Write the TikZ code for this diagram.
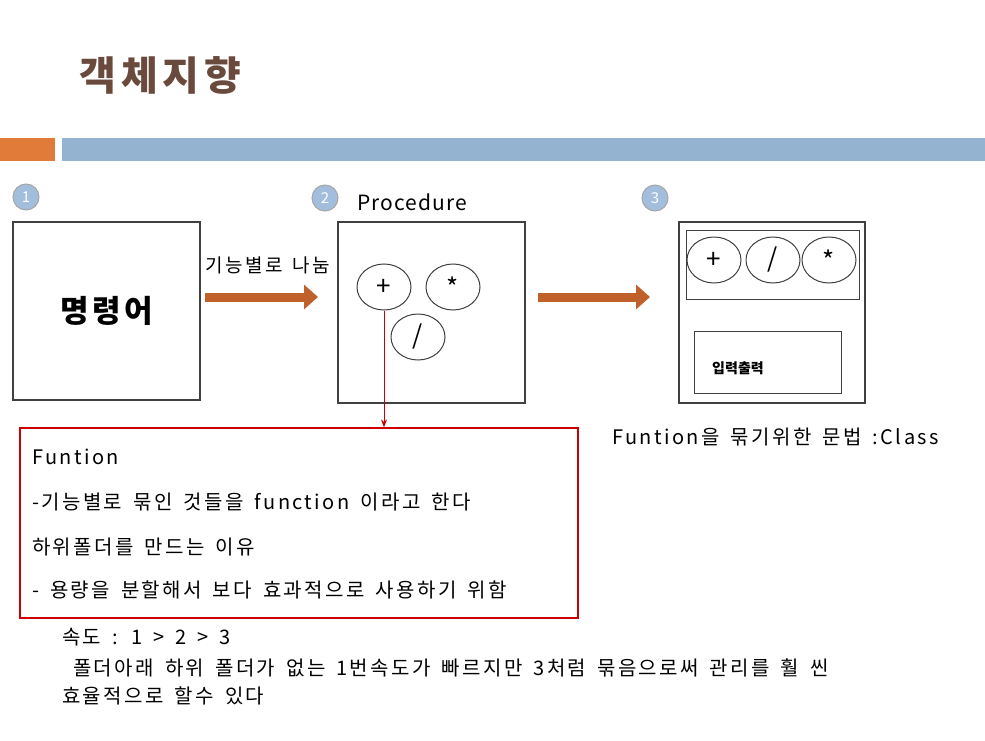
\documentclass[tikz,border=0pt]{standalone}
\usepackage{fontspec}
\setmainfont{Noto Sans CJK KR}
\newfontfamily\wide[LetterSpace=12,WordSpace=1.6]{Noto Sans CJK KR}
\newfontfamily\semi[LetterSpace=5]{Noto Sans CJK KR}
\usetikzlibrary{arrows.meta,shapes.geometric}
\definecolor{ttl}{HTML}{6B4A3E}
\definecolor{org}{HTML}{E07B39}
\definecolor{blu}{HTML}{94B3D0}
\definecolor{num}{HTML}{A3BEDC}
\definecolor{arr}{HTML}{C0612B}
\begin{document}
\begin{tikzpicture}[x=1pt,y=-1pt,
  box/.style={draw=black!75,line width=1.5pt},
  numc/.style={circle,fill=num,draw=gray!70,line width=1pt,minimum size=26pt,inner sep=0pt,text=white,font=\fontsize{15}{15}\selectfont},
  op/.style={ellipse,draw=black!75,line width=1pt,minimum width=54pt,minimum height=46pt,inner sep=0pt,font=\fontsize{26}{26}\selectfont},
  txt/.style={anchor=west,inner sep=0pt,font=\wide\fontsize{20}{22}\selectfont},
  big/.style={line width=9pt,arr,-{Triangle[length=14pt,width=24pt]}}]
\fill[white] (0,0) rectangle (985,741);
\node[anchor=west,text=ttl,font=\wide\fontsize{40}{44}\selectfont\bfseries] (title) at (76,75) {객체지향};
\fill[org] (0,138) rectangle (55,161);
\fill[blu] (62,138) rectangle (985,161);
\node[numc] (n1) at (26,197) {1};
\node[numc] (n2) at (325,198) {2};
\node[numc] (n3) at (655,198) {3};
\node[anchor=west,inner sep=0pt,font=\semi\fontsize{21}{22}\selectfont] (proc) at (357,202) {Procedure};
\node[box,minimum width=187pt,minimum height=178pt,font=\wide\fontsize{31}{33}\selectfont\bfseries] (b1) at (106.5,311) {명령어};
\node[box,minimum width=187pt,minimum height=181pt] (b2) at (431.5,312.5) {};
\node[box,minimum width=186pt,minimum height=181pt] (b3) at (772,312.5) {};
\node[draw=black!75,line width=1pt,minimum width=173pt,minimum height=69pt] (ib) at (772.5,264.5) {};
\node[draw=black!75,line width=1pt,minimum width=147pt,minimum height=62pt] (ib2) at (767.5,362) {};
\node[font=\fontsize{14}{15}\selectfont\bfseries] (io) at (738,368) {입력출력};
\node[op] (p1) at (384,287) {+};
\node[op] (m1) at (453,287) {*};
\node[op] (d1) at (418,337) {/};
\node[op] (p2) at (714,260) {+};
\node[op] (d2) at (773,260) {/};
\node[op] (m2) at (829,260) {*};
\coordinate (a1s) at (205,297); \coordinate (a1e) at (318,297);
\draw[big] (a1s) -- (a1e);
\node[font=\wide\fontsize{19}{20}\selectfont] (lbl) at (268,265) {기능별로 나눔};
\coordinate (a2s) at (538,297); \coordinate (a2e) at (650,297);
\draw[big] (a2s) -- (a2e);
\node[draw=red!80!black,line width=1.2pt,minimum width=558pt,minimum height=190pt] (rb) at (299,523) {};
\draw[red!80!black,line width=1pt,-{Stealth[length=8pt]}] (p1.south) -- (p1.south |- rb.north);
\node[txt] (t1) at (32,457) {Funtion};
\node[txt] (t2) at (32,502) {-기능별로 묶인 것들을 function 이라고 한다};
\node[txt] (t3) at (32,547) {하위폴더를 만드는 이유};
\node[txt] (t4) at (32,590) {-  용량을 분할해서 보다 효과적으로 사용하기 위함};
\node[txt] (cls) at (612,437) {Funtion을 묶기위한 문법 :Class};
\node[txt] (s1) at (62,637) {속도 : 1 > 2 > 3};
\node[txt] (s2) at (73,668) {폴더아래 하위 폴더가 없는 1번속도가 빠르지만 3처럼 묶음으로써 관리를 훨 씬};
\node[txt] (s3) at (62,696) {효율적으로 할수 있다};
\end{tikzpicture}
\end{document}
